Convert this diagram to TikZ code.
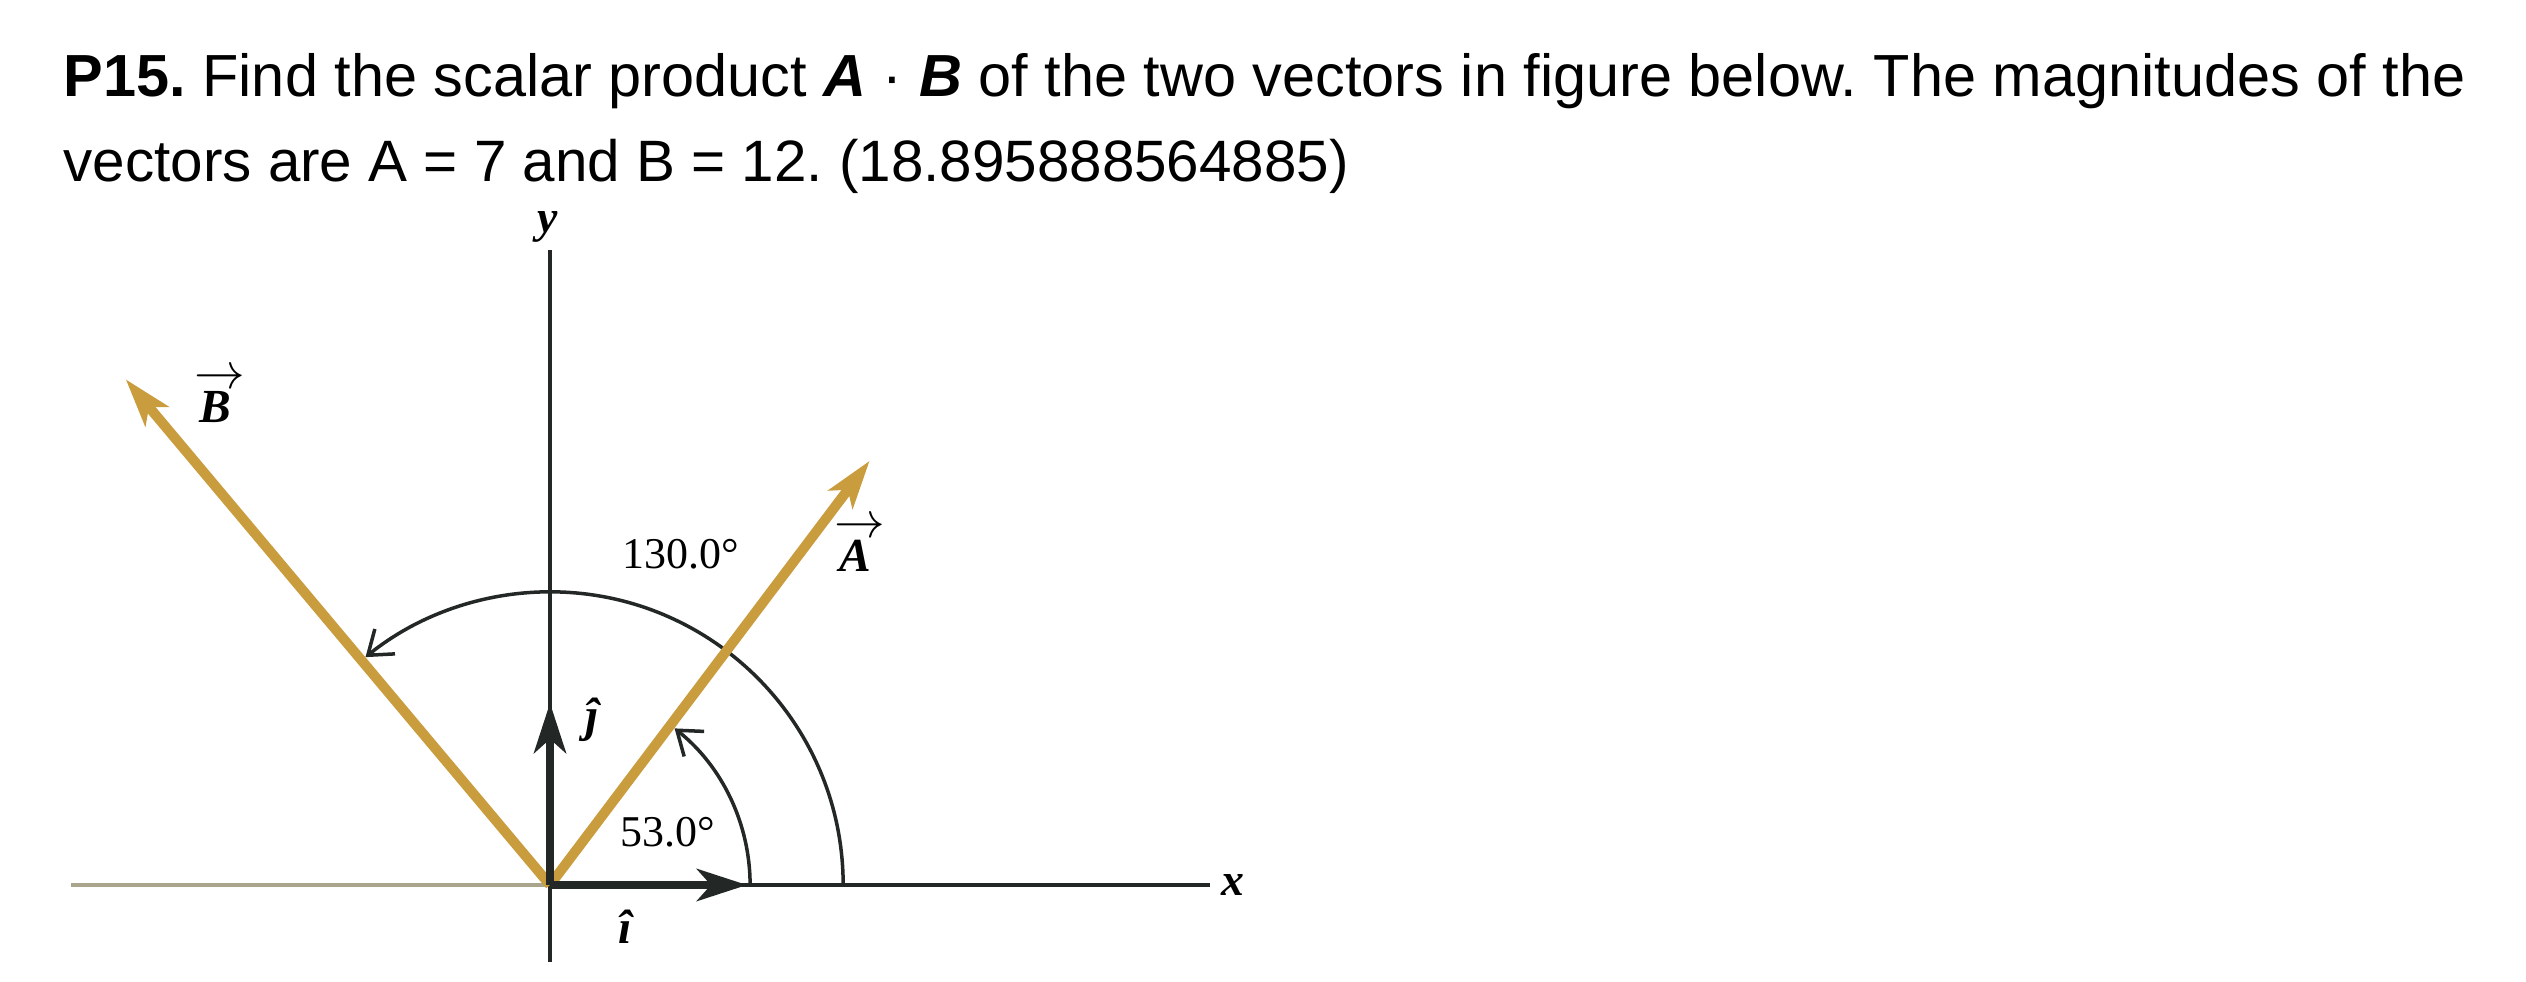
\documentclass[tikz,border=0pt]{standalone}
\usepackage{amsmath}
\usepackage{fontspec}
\setmainfont{Liberation Sans}
\newfontfamily\figfont{Liberation Serif}
\usetikzlibrary{arrows.meta}
\frenchspacing
\definecolor{vecgold}{RGB}{201,156,62}
\definecolor{axisdark}{RGB}{35,40,38}
\definecolor{axislight}{RGB}{170,166,142}
\tikzset{axe/.style={
    draw=axisdark,
    line width=0.045cm},
  vect/.style={
    draw=vecgold,
    line width=0.1cm,
    -{Stealth[length=0.48cm,width=0.3cm,inset=0.12cm]}},
  unitvect/.style={
    draw=axisdark,
    line width=0.08cm,
    -{Stealth[length=0.5cm,width=0.32cm,inset=0.14cm]}},
  angarc/.style={
    draw=axisdark,
    line width=0.035cm,
    -{Straight Barb[length=0.22cm,width=0.32cm]}},
  lbl/.style={
    font=\figfont\fontsize{12.5}{14}\selectfont,
    inner sep=0pt},
  veclbl/.style={
    font=\figfont\fontsize{13.5}{9.5}\selectfont\bfseries\itshape,
    align=center,
    anchor=south,
    inner sep=0pt},
  titre/.style={
    anchor=base west,
    inner sep=0pt}}

\begin{document}
\begin{tikzpicture}[x=0.01cm,y=0.01cm]
\useasboundingbox (0,0) rectangle (2526,982);

\node[titre,font=\fontsize{16.9}{19}\selectfont] (ligne1) at (63,885) {\textbf{P15.} Find the scalar product \textbf{\textit{A}} · \textbf{\textit{B}} of the two vectors in figure below. The magnitudes of the};
\node[titre,font=\fontsize{16.6}{19}\selectfont] (ligne2) at (63,800) {vectors are A = 7 and B = 12. (18.895888564885)};

\coordinate (O) at (550,97);
\coordinate (xg) at (71,97);
\coordinate (xd) at (1210,97);
\coordinate (yh) at (550,732);
\coordinate (yb) at (550,20);
\coordinate (A) at (869.6,521.1);
\coordinate (B) at (125.8,602.6);
\coordinate (I) at (747,97);
\coordinate (J) at (550,279);

% axes
\path[axe,draw=axislight] (xg) -- (O);
\path[axe] (O) -- (xd);
\path[axe] (yb) -- (yh);
\node[lbl,font=\figfont\fontsize{13}{15}\selectfont\itshape\bfseries] (xlab) at (1233,97) {x};
\node[lbl,font=\figfont\fontsize{13}{15}\selectfont\itshape\bfseries] (ylab) at (548,755) {y};

% angles
\path[angarc] (O) ++(2cm,0) arc[start angle=0,end angle=51.5,radius=2cm];
\path[angarc] (O) ++(2.93cm,0) arc[start angle=0,end angle=129,radius=2.93cm];
\node[lbl] (ang1) at (668,150) {53.0°};
\node[lbl] (ang2) at (681,428) {130.0°};

% vecteurs
\path[vect] (O) -- (A);
\path[vect] (O) -- (B);
\node[veclbl] (labA) at (855,410) {\hspace*{3pt}$\rightarrow$\\A};
\node[veclbl] (labB) at (215,559) {\hspace*{3pt}$\rightarrow$\\B};

% vecteurs unitaires
\path[unitvect] (O) -- (I);
\path[unitvect] (O) -- (J);
\node[lbl,font=\figfont\fontsize{13.5}{15}\selectfont\bfseries\itshape] (labi) at (625,55) {\^{\i}};
\node[lbl,font=\figfont\fontsize{13.5}{15}\selectfont\bfseries\itshape] (labj) at (592,262) {\^{\j}};

\end{tikzpicture}
\end{document}
